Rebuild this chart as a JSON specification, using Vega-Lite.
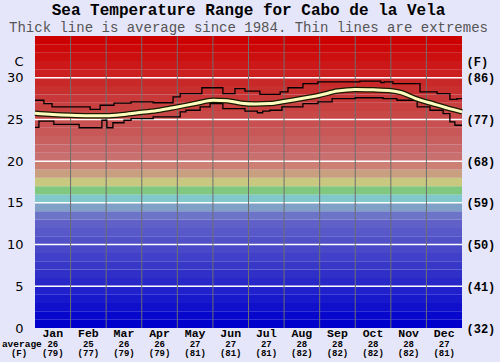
{
  "$schema": "https://vega.github.io/schema/vega-lite/v6.json",
  "width": 427,
  "height": 292,
  "autosize": {"type": "none"},
  "padding": {"left": 35, "top": 36, "right": 38, "bottom": 34},
  "background": "#e6e6fa",
  "title": {
    "text": "Sea Temperature Range for Cabo de la Vela",
    "subtitle": "Thick line is average since 1984. Thin lines are extremes",
    "font": "Liberation Mono", "fontSize": 16, "fontWeight": "bold", "color": "#000000",
    "subtitleFont": "Liberation Mono", "subtitleFontSize": 14, "subtitleColor": "#555555",
    "anchor": "middle", "offset": 1, "subtitlePadding": 3
  },
  "config": {"view": {"stroke": null}},
  "datasets": {
    "bands": [
      {"lo": 0, "hi": 1, "col": "#0000cc"}, {"lo": 1, "hi": 2, "col": "#0808cc"},
      {"lo": 2, "hi": 3, "col": "#1010cc"}, {"lo": 3, "hi": 4, "col": "#1818cc"},
      {"lo": 4, "hi": 5, "col": "#2020cc"}, {"lo": 5, "hi": 6, "col": "#2828c8"},
      {"lo": 6, "hi": 7, "col": "#3030c8"}, {"lo": 7, "hi": 8, "col": "#3838c8"},
      {"lo": 8, "hi": 9, "col": "#4040c8"}, {"lo": 9, "hi": 10, "col": "#4848c8"},
      {"lo": 10, "hi": 11, "col": "#5050c8"}, {"lo": 11, "hi": 12, "col": "#5858c8"},
      {"lo": 12, "hi": 13, "col": "#6060c8"}, {"lo": 13, "hi": 14, "col": "#6c74c8"},
      {"lo": 14, "hi": 15, "col": "#80a0c8"}, {"lo": 15, "hi": 16, "col": "#80c8cc"},
      {"lo": 16, "hi": 17, "col": "#80c880"}, {"lo": 17, "hi": 18, "col": "#c8c880"},
      {"lo": 18, "hi": 19, "col": "#c8a080"}, {"lo": 19, "hi": 20, "col": "#cc8074"},
      {"lo": 20, "hi": 21, "col": "#c87070"}, {"lo": 21, "hi": 22, "col": "#c86868"},
      {"lo": 22, "hi": 23, "col": "#c86060"}, {"lo": 23, "hi": 24, "col": "#c85858"},
      {"lo": 24, "hi": 25, "col": "#c85050"}, {"lo": 25, "hi": 26, "col": "#c84848"},
      {"lo": 26, "hi": 27, "col": "#c84040"}, {"lo": 27, "hi": 28, "col": "#c83838"},
      {"lo": 28, "hi": 29, "col": "#c83030"}, {"lo": 29, "hi": 30, "col": "#c82828"},
      {"lo": 30, "hi": 31, "col": "#cc2020"}, {"lo": 31, "hi": 32, "col": "#cc1818"},
      {"lo": 32, "hi": 33, "col": "#cc1010"}, {"lo": 33, "hi": 34, "col": "#cc0808"},
      {"lo": 34, "hi": 35, "col": "#cc0000"}
    ],
    "hgrid": [{"v": 5}, {"v": 10}, {"v": 15}, {"v": 20}, {"v": 25}, {"v": 30}],
    "vgrid": [{"m": 1}, {"m": 2}, {"m": 3}, {"m": 4}, {"m": 5}, {"m": 6}, {"m": 7}, {"m": 8}, {"m": 9}, {"m": 10}, {"m": 11}],
    "ext": [
      {"s": "max", "m": 0, "v": 27.3}, {"s": "max", "m": 0.25, "v": 26.9}, {"s": "max", "m": 0.48, "v": 26.5},
      {"s": "max", "m": 1.55, "v": 26.2}, {"s": "max", "m": 1.83, "v": 26.7}, {"s": "max", "m": 2.22, "v": 26.95},
      {"s": "max", "m": 2.7, "v": 27.1}, {"s": "max", "m": 3.32, "v": 27.0}, {"s": "max", "m": 3.88, "v": 27.7},
      {"s": "max", "m": 4.08, "v": 28.1}, {"s": "max", "m": 4.69, "v": 28.8}, {"s": "max", "m": 5.28, "v": 28.1},
      {"s": "max", "m": 5.62, "v": 28.7}, {"s": "max", "m": 5.9, "v": 28.4}, {"s": "max", "m": 6.32, "v": 28.0},
      {"s": "max", "m": 6.89, "v": 28.3}, {"s": "max", "m": 7.11, "v": 28.8}, {"s": "max", "m": 7.53, "v": 29.3},
      {"s": "max", "m": 7.95, "v": 29.5}, {"s": "max", "m": 9.13, "v": 29.6}, {"s": "max", "m": 9.72, "v": 29.4},
      {"s": "max", "m": 9.81, "v": 29.5}, {"s": "max", "m": 10.06, "v": 29.3}, {"s": "max", "m": 10.82, "v": 28.3},
      {"s": "max", "m": 11.3, "v": 28.1}, {"s": "max", "m": 11.66, "v": 27.4}, {"s": "max", "m": 11.86, "v": 27.5},
      {"s": "max", "m": 12, "v": 27.5},
      {"s": "min", "m": 0, "v": 24.05}, {"s": "min", "m": 0.11, "v": 24.8}, {"s": "min", "m": 0.53, "v": 24.4},
      {"s": "min", "m": 1.24, "v": 24.0}, {"s": "min", "m": 1.88, "v": 24.9}, {"s": "min", "m": 2.02, "v": 24.0},
      {"s": "min", "m": 2.19, "v": 24.6}, {"s": "min", "m": 2.5, "v": 24.9}, {"s": "min", "m": 2.7, "v": 25.1},
      {"s": "min", "m": 3.32, "v": 25.3}, {"s": "min", "m": 4.08, "v": 25.9}, {"s": "min", "m": 4.24, "v": 26.1},
      {"s": "min", "m": 4.64, "v": 26.5}, {"s": "min", "m": 4.92, "v": 26.9}, {"s": "min", "m": 5.28, "v": 26.3},
      {"s": "min", "m": 5.9, "v": 26.0}, {"s": "min", "m": 6.25, "v": 25.8}, {"s": "min", "m": 6.4, "v": 26.0},
      {"s": "min", "m": 6.6, "v": 26.1}, {"s": "min", "m": 6.94, "v": 26.5}, {"s": "min", "m": 7.53, "v": 26.9},
      {"s": "min", "m": 7.95, "v": 27.1}, {"s": "min", "m": 8.35, "v": 27.5}, {"s": "min", "m": 9.0, "v": 27.6},
      {"s": "min", "m": 9.78, "v": 27.5}, {"s": "min", "m": 10.17, "v": 27.3}, {"s": "min", "m": 10.74, "v": 26.5},
      {"s": "min", "m": 11.1, "v": 26.1}, {"s": "min", "m": 11.47, "v": 25.7}, {"s": "min", "m": 11.66, "v": 24.7},
      {"s": "min", "m": 11.8, "v": 24.3}, {"s": "min", "m": 12, "v": 24.3}
    ],
    "avg": [
      {"m": 0, "v": 25.75}, {"m": 0.5, "v": 25.6}, {"m": 1.0, "v": 25.5}, {"m": 1.5, "v": 25.45},
      {"m": 2.0, "v": 25.45}, {"m": 2.5, "v": 25.6}, {"m": 3.0, "v": 25.85}, {"m": 3.5, "v": 26.1},
      {"m": 4.0, "v": 26.5}, {"m": 4.5, "v": 26.9}, {"m": 5.0, "v": 27.3}, {"m": 5.4, "v": 27.25},
      {"m": 5.8, "v": 26.95}, {"m": 6.2, "v": 26.85}, {"m": 6.6, "v": 26.9}, {"m": 7.0, "v": 27.15},
      {"m": 7.5, "v": 27.5}, {"m": 8.0, "v": 27.9}, {"m": 8.5, "v": 28.4}, {"m": 9.0, "v": 28.6},
      {"m": 9.5, "v": 28.55}, {"m": 10.0, "v": 28.45}, {"m": 10.3, "v": 28.2}, {"m": 10.7, "v": 27.5},
      {"m": 11.2, "v": 26.85}, {"m": 11.6, "v": 26.35}, {"m": 12, "v": 25.9}
    ],
    "months": [
      {"m": 0.5, "name": "Jan", "c": 26, "f": "(79)"}, {"m": 1.5, "name": "Feb", "c": 25, "f": "(77)"},
      {"m": 2.5, "name": "Mar", "c": 26, "f": "(79)"}, {"m": 3.5, "name": "Apr", "c": 26, "f": "(79)"},
      {"m": 4.5, "name": "May", "c": 27, "f": "(81)"}, {"m": 5.5, "name": "Jun", "c": 27, "f": "(81)"},
      {"m": 6.5, "name": "Jul", "c": 27, "f": "(81)"}, {"m": 7.5, "name": "Aug", "c": 28, "f": "(82)"},
      {"m": 8.5, "name": "Sep", "c": 28, "f": "(82)"}, {"m": 9.5, "name": "Oct", "c": 28, "f": "(82)"},
      {"m": 10.5, "name": "Nov", "c": 28, "f": "(82)"}, {"m": 11.5, "name": "Dec", "c": 27, "f": "(81)"}
    ],
    "rowlabels": [{"t": "average", "row": "c"}, {"t": "(F)", "row": "f"}]
  },
  "layer": [
    {
      "data": {"name": "bands"},
      "mark": {"type": "rect"},
      "encoding": {
        "y": {"field": "lo", "type": "quantitative", "scale": {"domain": [0, 35], "nice": false, "zero": false},
          "axis": {"orient": "left", "values": [0, 5, 10, 15, 20, 25, 30, 32], "labelExpr": "datum.value == 32 ? 'C' : datum.label",
            "grid": false, "ticks": false, "domain": false, "title": null, "labelFont": "DejaVu Sans", "labelFontSize": 13,
            "labelColor": "#000000", "labelPadding": 12, "labelFlush": false, "labelOverlap": false}},
        "y2": {"field": "hi"},
        "color": {"field": "col", "type": "nominal", "scale": null}
      }
    },
    {
      "data": {"name": "hgrid"},
      "mark": {"type": "rule", "color": "#ffffff", "strokeWidth": 1.5},
      "encoding": {"y": {"field": "v", "type": "quantitative", "axis": null}}
    },
    {
      "data": {"name": "vgrid"},
      "mark": {"type": "rule", "color": "#6e6e6e", "strokeWidth": 1},
      "encoding": {"x": {"field": "m", "type": "quantitative", "scale": {"domain": [0, 12], "nice": false, "zero": false}, "axis": null}}
    },
    {
      "data": {"name": "ext"},
      "mark": {"type": "line", "interpolate": "step-after", "color": "#000000", "strokeWidth": 1.3},
      "encoding": {
        "x": {"field": "m", "type": "quantitative", "axis": null},
        "y": {"field": "v", "type": "quantitative",
          "axis": {"orient": "right", "values": [0, 5, 10, 15, 20, 25, 30, 32],
            "labelExpr": "datum.value == 32 ? '(F)' : '(' + format(datum.value * 9 / 5 + 32, 'd') + ')'",
            "grid": false, "ticks": false, "domain": false, "title": null, "labelFont": "Liberation Mono", "labelFontWeight": "bold",
            "labelFontSize": 12, "labelColor": "#000000", "labelPadding": 4, "labelFlush": false, "labelOverlap": false}},
        "detail": {"field": "s", "type": "nominal"}
      }
    },
    {
      "data": {"name": "avg"},
      "mark": {"type": "line", "interpolate": "monotone", "color": "#1a1a00", "strokeWidth": 5.5},
      "encoding": {
        "x": {"field": "m", "type": "quantitative", "axis": null},
        "y": {"field": "v", "type": "quantitative", "axis": null}
      }
    },
    {
      "data": {"name": "avg"},
      "mark": {"type": "line", "interpolate": "monotone", "color": "#ffffc0", "strokeWidth": 3},
      "encoding": {
        "x": {"field": "m", "type": "quantitative", "axis": null},
        "y": {"field": "v", "type": "quantitative", "axis": null}
      }
    },
    {
      "data": {"name": "months"},
      "mark": {"type": "text", "font": "Liberation Mono", "fontWeight": "bold", "fontSize": 11.5, "color": "#000000", "baseline": "middle"},
      "encoding": {
        "x": {"field": "m", "type": "quantitative", "axis": null},
        "y": {"datum": -0.68, "type": "quantitative", "axis": null},
        "text": {"field": "name"}
      }
    },
    {
      "data": {"name": "months"},
      "mark": {"type": "text", "font": "Liberation Mono", "fontWeight": "bold", "fontSize": 9, "color": "#000000", "baseline": "middle"},
      "encoding": {
        "x": {"field": "m", "type": "quantitative", "axis": null},
        "y": {"datum": -1.86, "type": "quantitative", "axis": null},
        "text": {"field": "c"}
      }
    },
    {
      "data": {"name": "months"},
      "mark": {"type": "text", "font": "Liberation Mono", "fontWeight": "bold", "fontSize": 9, "color": "#000000", "baseline": "middle"},
      "encoding": {
        "x": {"field": "m", "type": "quantitative", "axis": null},
        "y": {"datum": -3.0, "type": "quantitative", "axis": null},
        "text": {"field": "f"}
      }
    },
    {
      "data": {"name": "rowlabels"},
      "transform": [{"filter": "datum.row == 'c'"}],
      "mark": {"type": "text", "font": "Liberation Mono", "fontWeight": "bold", "fontSize": 9.5, "color": "#000000", "baseline": "middle"},
      "encoding": {
        "x": {"datum": -0.37, "type": "quantitative", "axis": null},
        "y": {"datum": -1.86, "type": "quantitative", "axis": null},
        "text": {"field": "t"}
      }
    },
    {
      "data": {"name": "rowlabels"},
      "transform": [{"filter": "datum.row == 'f'"}],
      "mark": {"type": "text", "font": "Liberation Mono", "fontWeight": "bold", "fontSize": 9, "color": "#000000", "baseline": "middle"},
      "encoding": {
        "x": {"datum": -0.45, "type": "quantitative", "axis": null},
        "y": {"datum": -3.0, "type": "quantitative", "axis": null},
        "text": {"field": "t"}
      }
    }
  ],
  "resolve": {"axis": {"y": "independent"}}
}
